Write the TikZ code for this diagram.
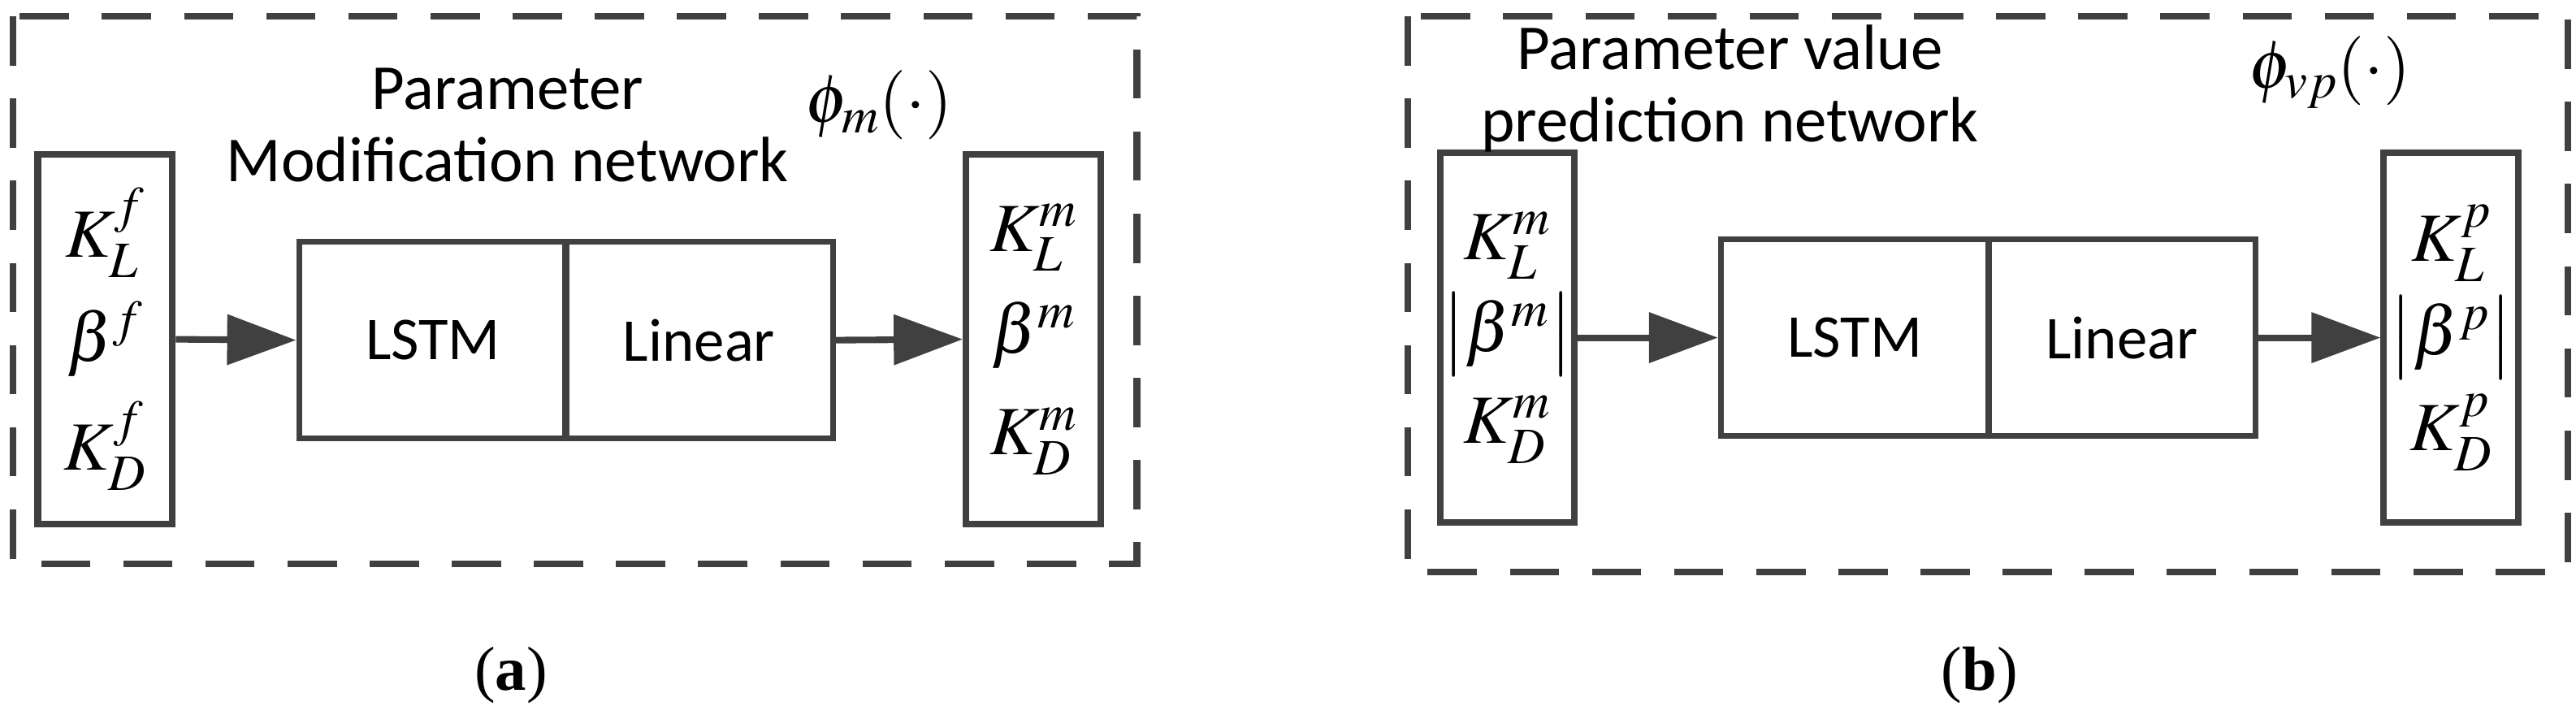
\documentclass[tikz,border=0pt]{standalone}
\usepackage{mathptmx}
\usepackage{fontspec}
\setmainfont{Carlito}
\newfontfamily\capfont{Liberation Serif}
\usetikzlibrary{arrows.meta}
\definecolor{dg}{HTML}{404040}
\tikzset{
  dbox/.style={draw=dg,line width=4pt,dash pattern=on 30pt off 20pt},
  vbox/.style={draw=dg,line width=4pt,minimum width=82pt,minimum height=225pt,inner sep=0pt,align=center},
  nbox/.style={draw=dg,line width=3.5pt,minimum width=163pt,minimum height=120pt,inner sep=0pt},
  lbl/.style={font=\fontsize{37}{42}\selectfont},
  ttl/.style={font=\fontsize{39}{44}\selectfont,align=center},
  arr/.style={draw=dg,line width=4pt,-{Triangle[length=42pt,width=30pt]}},
  mth/.style={font=\fontsize{42}{48}\selectfont}
}
\begin{document}
\begin{tikzpicture}[x=1pt,y=-1pt]
\useasboundingbox (0,0) rectangle (1568,443);
% panel a
\draw[dbox] (8,10) rectangle (692,343);
\node[vbox,mth] (ina) at (64,206.5) {$K_L^f$\\[14pt]$\beta^f$\\[14pt]$K_D^f$};
\node[nbox,lbl] (lstma) at (263.5,207) {LSTM};
\node[nbox,lbl] (lina) at (425.5,207) {Linear};
\node[vbox,mth] (outa) at (629,206.5) {$K_L^m$\\[14pt]$\beta^m$\\[14pt]$K_D^m$};
\draw[arr] (ina.east) -- (lstma.west);
\draw[arr] (lina.east) -- (outa.west);
\node[ttl] (tta) at (309,76) {Parameter\\Modification network};
\node[mth] (phia) at (535,64) {$\phi_m(\cdot)$};
\node[font=\capfont\fontsize{38}{44}\selectfont] (capa) at (311,411) {(\textbf{a})};
% panel b
\draw[dbox] (857,10) rectangle (1563,348);
\node[vbox,mth] (inb) at (917.5,205.5) {$K_L^m$\\[8pt]$\big|\beta^m\big|$\\[8pt]$K_D^m$};
\node[nbox,lbl] (lstmb) at (1129,205.5) {LSTM};
\node[nbox,lbl] (linb) at (1291.5,205.5) {Linear};
\node[vbox,mth] (outb) at (1492,205.5) {$K_L^p$\\[8pt]$\big|\beta^p\big|$\\[8pt]$K_D^p$};
\draw[arr] (inb.east) -- (lstmb.west);
\draw[arr] (linb.east) -- (outb.west);
\node[ttl] (ttb) at (1053,54) {Parameter value\\prediction network};
\node[mth] (phib) at (1418,44) {$\phi_{vp}(\cdot)$};
\node[font=\capfont\fontsize{38}{44}\selectfont] (capb) at (1205,411) {(\textbf{b})};
\end{tikzpicture}
\end{document}
